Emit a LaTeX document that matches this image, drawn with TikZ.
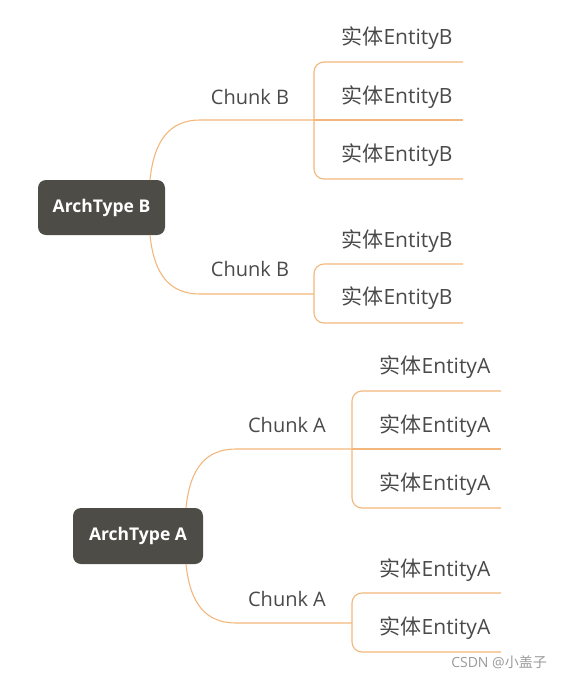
\documentclass[tikz,border=0pt]{standalone}
\usepackage{fontspec}
\setmainfont{Open Sans}
\newfontfamily\cjk{Noto Sans CJK SC}
\definecolor{boxfill}{HTML}{4D4C47}
\definecolor{linec}{HTML}{F2B77C}
\definecolor{txt}{HTML}{4A4A4A}
\definecolor{wm}{HTML}{9A9A9A}
\newcommand{\ent}[1]{{\cjk 实体}Entity#1}
\begin{document}
\begin{tikzpicture}[x=1pt,y=-1pt,
  arch/.style={fill=boxfill,rounded corners=8pt,text=white,font=\fontsize{17.5}{20}\selectfont\bfseries,minimum width=127pt,minimum height=55pt,inner sep=0pt},
  chunk/.style={text=txt,font=\fontsize{20}{24}\selectfont,inner sep=0pt},
  entity/.style={text=txt,font=\fontsize{21}{25}\selectfont,inner sep=0pt},
  branch/.style={draw=linec,line width=1.1pt},
  bracket/.style={draw=linec,line width=1.1pt,rounded corners=10pt}]
\useasboundingbox (0,0) rectangle (564,678);
% ---------- B group ----------
\node[arch] (archB) at (101.5,207.5) {ArchType B};
\node[chunk] (cB1) at (250,97) {Chunk B};
\node[chunk] (cB2) at (250,269) {Chunk B};
\node[entity] (eB1) at (397,38) {\ent{B}};
\node[entity] (eB2) at (397,97) {\ent{B}};
\node[entity] (eB3) at (397,155) {\ent{B}};
\node[entity] (eB4) at (397,241) {\ent{B}};
\node[entity] (eB5) at (397,298) {\ent{B}};
\coordinate (sB1) at (150,180);
\coordinate (sB2) at (150,235);
\coordinate (kB1) at (200,120);
\coordinate (kB2) at (200,294);
\coordinate (jB1) at (314,120);
\coordinate (jB2) at (314,294);
\coordinate (lB1) at (463,62);
\coordinate (lB2) at (463,120);
\coordinate (lB3) at (463,179);
\coordinate (lB4) at (463,264);
\coordinate (lB5) at (463,323);
\draw[branch] (sB1) .. controls (154,140) and (170,120) .. (kB1) -- (jB1);
\draw[branch] (sB2) .. controls (154,275) and (170,294) .. (kB2) -- (jB2);
\draw[bracket] (lB1) -| (jB1) |- (lB3);
\draw[branch] (jB1) -- (lB2);
\draw[bracket] (lB4) -| (jB2) |- (lB5);
% ---------- A group ----------
\node[arch,minimum width=130pt,minimum height=56pt] (archA) at (138,536) {ArchType A};
\node[chunk] (cA1) at (287,425) {Chunk A};
\node[chunk] (cA2) at (287,599) {Chunk A};
\node[entity] (eA1) at (435,367) {\ent{A}};
\node[entity] (eA2) at (435,426) {\ent{A}};
\node[entity] (eA3) at (435,484) {\ent{A}};
\node[entity] (eA4) at (435,570) {\ent{A}};
\node[entity] (eA5) at (435,628) {\ent{A}};
\coordinate (sA1) at (186,508);
\coordinate (sA2) at (186,564);
\coordinate (kA1) at (236,449);
\coordinate (kA2) at (236,623);
\coordinate (jA1) at (352,449);
\coordinate (jA2) at (352,623);
\coordinate (lA1) at (501,391);
\coordinate (lA2) at (501,449);
\coordinate (lA3) at (501,508);
\coordinate (lA4) at (501,593);
\coordinate (lA5) at (501,652);
\draw[branch] (sA1) .. controls (190,468) and (206,449) .. (kA1) -- (jA1);
\draw[branch] (sA2) .. controls (190,604) and (206,623) .. (kA2) -- (jA2);
\draw[bracket] (lA1) -| (jA1) |- (lA3);
\draw[branch] (jA1) -- (lA2);
\draw[bracket] (lA4) -| (jA2) |- (lA5);
% watermark
\node[text=wm,font=\fontsize{14}{16}\selectfont,inner sep=0pt] (wmk) at (499,662) {CSDN @{\cjk 小盖子}};
\end{tikzpicture}
\end{document}
